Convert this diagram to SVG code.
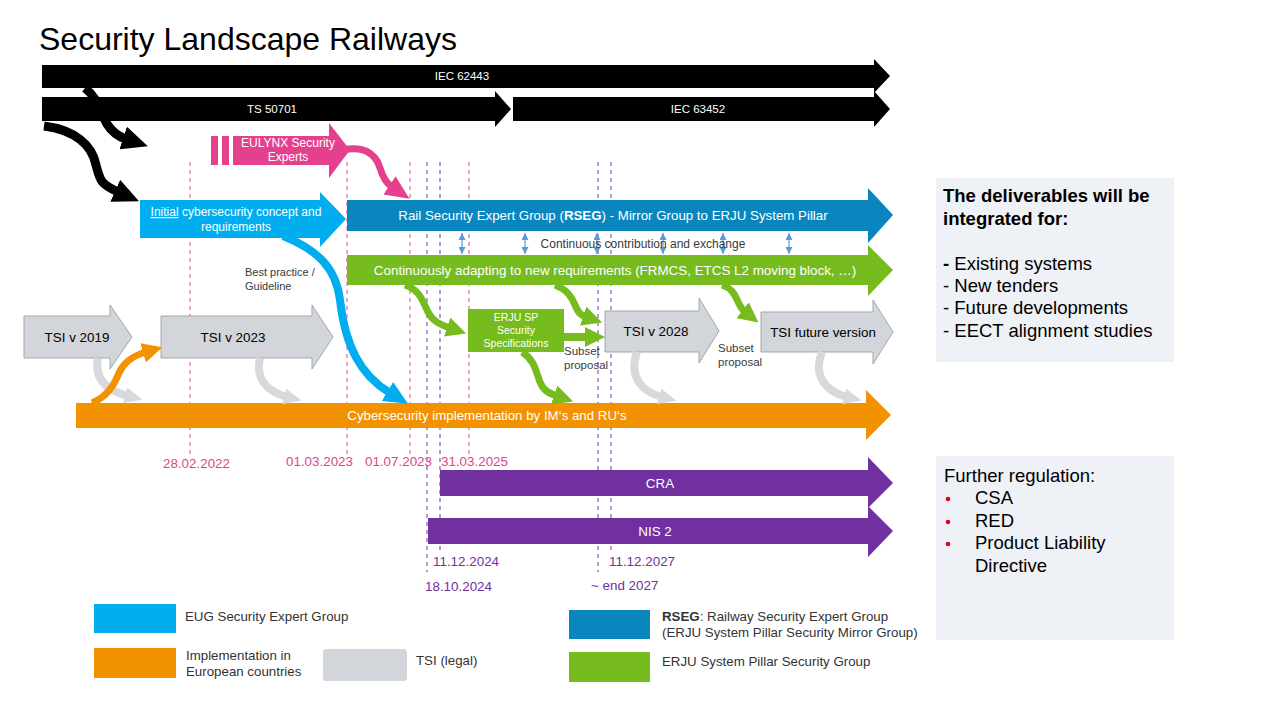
<svg xmlns="http://www.w3.org/2000/svg" width="1280" height="720" viewBox="0 0 1280 720">
<style>
text { font-family: "Liberation Sans", Arial, Helvetica, sans-serif; }
.w { fill: #ffffff; }
.dk { fill: #3a3a3a; }
.blk { fill: #000000; }
.pinkt { fill: #E0448C; font-size: 13.4px; }
.purt { fill: #7030A0; font-size: 13.4px; }
.tsi { fill: #D2D5D9; stroke: #A3A7AB; stroke-width: 1; }
.dpink { stroke: #E0448C; stroke-width: 1; stroke-dasharray: 4 4; fill: none; }
.dpur { stroke: #7030A0; stroke-width: 1; stroke-dasharray: 4 4; fill: none; }
.cv { fill: none; stroke-linecap: butt; }
.sa { stroke: #5B9BD5; stroke-width: 1.2; marker-start: url(#mS); marker-end: url(#mS); }
.leg { fill: #333333; font-size: 13.3px; }
.panel { fill: #EEF1F5; }
.pt { fill: #000000; font-size: 18.5px; }
</style>
<defs>
<marker id="mBlack" markerUnits="userSpaceOnUse" viewBox="0 0 26 24" markerWidth="26" markerHeight="24" refX="3" refY="12" orient="auto"><path d="M0,0 L26,12 L0,24 Z" fill="#000"/></marker>
<marker id="mPink" markerUnits="userSpaceOnUse" viewBox="0 0 24 22" markerWidth="24" markerHeight="22" refX="3" refY="11" orient="auto"><path d="M0,0 L24,11 L0,22 Z" fill="#E5408E"/></marker>
<marker id="mBlue" markerUnits="userSpaceOnUse" viewBox="0 0 24 22" markerWidth="24" markerHeight="22" refX="3" refY="11" orient="auto"><path d="M0,0 L24,11 L0,22 Z" fill="#00AEEF"/></marker>
<marker id="mGreen" markerUnits="userSpaceOnUse" viewBox="0 0 20 20" markerWidth="20" markerHeight="20" refX="3" refY="10" orient="auto"><path d="M0,0 L20,10 L0,20 Z" fill="#77BC1F"/></marker>
<marker id="mGray" markerUnits="userSpaceOnUse" viewBox="0 0 18 16" markerWidth="18" markerHeight="16" refX="3" refY="8" orient="auto"><path d="M0,0 L18,8 L0,16 Z" fill="#D7D9DC"/></marker>
<marker id="mOrange" markerUnits="userSpaceOnUse" viewBox="0 0 20 20" markerWidth="20" markerHeight="20" refX="3" refY="10" orient="auto"><path d="M0,0 L20,10 L0,20 Z" fill="#F39200"/></marker>
<marker id="mS" markerUnits="userSpaceOnUse" viewBox="0 0 7 7" markerWidth="7" markerHeight="7" refX="7" refY="3.5" orient="auto-start-reverse"><path d="M0,0 L7,3.5 L0,7 Z" fill="#5B9BD5"/></marker>
</defs>

<rect x="0" y="0" width="1280" height="720" fill="#ffffff"/>

<text id="title" x="39" y="50" font-size="32" fill="#000">Security Landscape Railways</text>

<!-- dashed date lines -->
<g id="datelines">
<line class="dpink" x1="190" y1="162" x2="190" y2="456"/>
<line class="dpink" x1="347" y1="162" x2="347" y2="456"/>
<line class="dpink" x1="410" y1="162" x2="410" y2="456"/>
<line class="dpink" x1="469" y1="162" x2="469" y2="456"/>
<line class="dpur" x1="427" y1="162" x2="427" y2="572"/>
<line class="dpur" x1="440" y1="162" x2="440" y2="552"/>
<line class="dpur" x1="598" y1="162" x2="598" y2="572"/>
<line class="dpur" x1="611" y1="162" x2="611" y2="552"/>
</g>

<g id="n-iec62443">
<path d="M42,65 H874 V59 L890,76 L874,93 V88 H42 Z" fill="#000"/>
<text class="w" x="462" y="80" font-size="11.5" text-anchor="middle">IEC 62443</text>
</g>
<g id="n-ts50701">
<path d="M42,97 H495 V91 L511,109 L495,127 V121 H42 Z" fill="#000"/>
<text class="w" x="272" y="113" font-size="11.5" text-anchor="middle">TS 50701</text>
</g>
<g id="n-iec63452">
<path d="M513,97 H874 V91 L890,109 L874,127 V121 H513 Z" fill="#000"/>
<text class="w" x="698" y="113" font-size="11.5" text-anchor="middle">IEC 63452</text>
</g>

<g id="n-eulynx">
<rect x="211" y="136" width="7" height="29" fill="#E5408E"/>
<rect x="222" y="136" width="7" height="29" fill="#E5408E"/>
<path d="M233,136 H329 V123 L350,150 L329,178 V165 H233 Z" fill="#E5408E"/>
<text class="w" x="288" y="147" font-size="12" text-anchor="middle">EULYNX Security</text>
<text class="w" x="288" y="161" font-size="12" text-anchor="middle">Experts</text>
</g>

<g id="n-initial">
<path d="M140,200 H320 V192 L346,219 L320,247 V238 H140 Z" fill="#00AEEF"/>
<text class="w" x="236" y="216" font-size="12" text-anchor="middle"><tspan text-decoration="underline">Initial</tspan> cybersecurity concept and</text>
<text class="w" x="236" y="231" font-size="12" text-anchor="middle">requirements</text>
</g>

<g id="n-rseg">
<path d="M347,200 H868 V188 L893,215 L868,243 V231 H347 Z" fill="#0A86BF"/>
<text class="w" x="613" y="220" font-size="13.3" text-anchor="middle">Rail Security Expert Group (<tspan font-weight="bold">RSEG</tspan>) - Mirror Group to ERJU System Pillar</text>
</g>

<g id="n-continuous">
<path d="M347,255 H868 V245 L893,270 L868,296 V285 H347 Z" fill="#77BC1F"/>
<text class="w" x="615" y="275" font-size="13.4" text-anchor="middle">Continuously adapting to new requirements (FRMCS, ETCS L2 moving block, …)</text>
</g>

<g id="n-erju-sp">
<rect x="468" y="309" width="96" height="43" fill="#77BC1F"/>
<text class="w" x="516" y="321" font-size="10.5" text-anchor="middle">ERJU SP</text>
<text class="w" x="516" y="334" font-size="10.5" text-anchor="middle">Security</text>
<text class="w" x="516" y="347" font-size="10.5" text-anchor="middle">Specifications</text>
</g>

<g id="n-tsi2019">
<path class="tsi" d="M24,316 H110 V305 L132,337 L110,369 V358 H24 Z"/>
<text class="blk" x="77" y="342" font-size="13.4" text-anchor="middle">TSI v 2019</text>
</g>
<g id="n-tsi2023">
<path class="tsi" d="M161,316 H312 V305 L333,337 L312,369 V358 H161 Z"/>
<text class="blk" x="233" y="342" font-size="13.4" text-anchor="middle">TSI v 2023</text>
</g>
<g id="n-tsi2028">
<path class="tsi" d="M605,311 H699 V298 L719,331 L699,363 V352 H605 Z"/>
<text class="blk" x="656" y="336" font-size="13.4" text-anchor="middle">TSI v 2028</text>
</g>
<g id="n-tsifuture">
<path class="tsi" d="M761,312 H873 V300 L893,332 L873,364 V352 H761 Z"/>
<text class="blk" x="823" y="337" font-size="13.4" text-anchor="middle">TSI future version</text>
</g>

<g id="n-implementation">
<path d="M76,403 H866 V390 L891,415 L866,440 V428 H76 Z" fill="#F39200"/>
<text class="w" x="487" y="420" font-size="13.3" text-anchor="middle">Cybersecurity implementation by IM‘s and RU‘s</text>
</g>

<g id="n-cra">
<path d="M440,470 H868 V457 L893,483 L868,508 V496 H440 Z" fill="#7030A0"/>
<text class="w" x="660" y="488" font-size="13.4" text-anchor="middle">CRA</text>
</g>
<g id="n-nis2">
<path d="M428,518 H868 V506 L893,531 L868,557 V544 H428 Z" fill="#7030A0"/>
<text class="w" x="655" y="536" font-size="13.4" text-anchor="middle">NIS 2</text>
</g>

<!-- connectors -->
<g id="connectors">
<path class="cv" d="M85,88 C98,98 100,112 107,124 C112,132 117,136 126,139" stroke="#000" stroke-width="9" marker-end="url(#mBlack)"/>
<path class="cv" d="M44,126 C75,130 92,145 96,165 C100,180 100,184 118,192" stroke="#000" stroke-width="9" marker-end="url(#mBlack)"/>
<path class="cv" d="M343,150 C362,146 375,152 380,168 C383,178 386,183 392,187" stroke="#E5408E" stroke-width="7" marker-end="url(#mPink)"/>
<path class="cv" d="M283,236 C318,250 336,268 340,300 C345,345 360,375 390,393" stroke="#00AEEF" stroke-width="8" marker-end="url(#mBlue)"/>
<path class="cv" d="M405,285 C420,290 422,300 428,312 C432,320 438,324 450,328" stroke="#77BC1F" stroke-width="7" marker-end="url(#mGreen)"/>
<path class="cv" d="M555,285 C568,290 572,298 575,305 C578,312 580,315 586,317" stroke="#77BC1F" stroke-width="7" marker-end="url(#mGreen)"/>
<path class="cv" d="M722,285 C738,290 736,305 745,312" stroke="#77BC1F" stroke-width="7" marker-end="url(#mGreen)"/>
<path class="cv" d="M564,337 L588,337" stroke="#77BC1F" stroke-width="8" marker-end="url(#mGreen)"/>
<path class="cv" d="M522,352 C535,360 536,372 540,382 C543,390 548,393 557,396" stroke="#77BC1F" stroke-width="7" marker-end="url(#mGreen)"/>
<path class="cv" d="M98,358 C94,378 105,390 128,396" stroke="#D7D9DC" stroke-width="8" marker-end="url(#mGray)"/>
<path class="cv" d="M260,358 C255,380 268,392 287,397" stroke="#D7D9DC" stroke-width="8" marker-end="url(#mGray)"/>
<path class="cv" d="M637,352 C628,378 643,392 662,397" stroke="#D7D9DC" stroke-width="8" marker-end="url(#mGray)"/>
<path class="cv" d="M822,352 C812,378 828,392 847,397" stroke="#D7D9DC" stroke-width="8" marker-end="url(#mGray)"/>
<path class="cv" d="M92,403 C108,396 114,385 119,373 C124,362 132,356 146,352" stroke="#F39200" stroke-width="7" marker-end="url(#mOrange)"/>
<line class="sa" x1="462" y1="233" x2="462" y2="254"/>
<line class="sa" x1="525" y1="233" x2="525" y2="254"/>
<line class="sa" x1="597" y1="233" x2="597" y2="254"/>
<line class="sa" x1="663" y1="233" x2="663" y2="254"/>
<line class="sa" x1="723" y1="233" x2="723" y2="254"/>
<line class="sa" x1="789" y1="233" x2="789" y2="254"/>
</g>

<g id="labels">
<text class="dk" x="643" y="248" font-size="12" text-anchor="middle">Continuous contribution and exchange</text>
<text class="dk" x="245" y="276" font-size="11" fill="#222">Best practice /</text>
<text class="dk" x="245" y="290" font-size="11" fill="#222">Guideline</text>
<text class="dk" x="564" y="355" font-size="11.5">Subset</text>
<text class="dk" x="564" y="369" font-size="11.5">proposal</text>
<text class="dk" x="718" y="352" font-size="11.5">Subset</text>
<text class="dk" x="718" y="366" font-size="11.5">proposal</text>
<text class="pinkt" x="163" y="468">28.02.2022</text>
<text class="pinkt" x="286" y="466">01.03.2023</text>
<text class="pinkt" x="365" y="466">01.07.2023</text>
<text class="pinkt" x="441" y="466">31.03.2025</text>
<text class="purt" x="433" y="566">11.12.2024</text>
<text class="purt" x="425" y="591">18.10.2024</text>
<text class="purt" x="609" y="566">11.12.2027</text>
<text class="purt" x="591" y="590">~ end 2027</text>
</g>

<g id="panel-deliverables">
<rect class="panel" x="936" y="178" width="238" height="184"/>
<text class="pt" x="943" y="202" font-weight="bold">The deliverables will be</text>
<text class="pt" x="943" y="225" font-weight="bold">integrated for:</text>
<text class="pt" x="943" y="270"><tspan font-weight="bold">-</tspan> Existing systems</text>
<text class="pt" x="943" y="292">- New tenders</text>
<text class="pt" x="943" y="314">- Future developments</text>
<text class="pt" x="943" y="337">- EECT alignment studies</text>
</g>

<g id="panel-regulation">
<rect class="panel" x="936" y="456" width="238" height="184"/>
<text class="pt" x="944" y="482">Further regulation:</text>
<circle cx="948" cy="499" r="2.3" fill="#E2001A"/>
<circle cx="948" cy="522" r="2.3" fill="#E2001A"/>
<circle cx="948" cy="544" r="2.3" fill="#E2001A"/>
<text class="pt" x="975" y="504">CSA</text>
<text class="pt" x="975" y="527">RED</text>
<text class="pt" x="975" y="549">Product Liability</text>
<text class="pt" x="975" y="572">Directive</text>
</g>

<g id="legend">
<rect x="94" y="604" width="82" height="29" fill="#00AEEF"/>
<text class="leg" x="185" y="621">EUG Security Expert Group</text>
<rect x="94" y="648" width="82" height="30" fill="#F39200"/>
<text class="leg" x="186" y="660">Implementation in</text>
<text class="leg" x="186" y="676">European countries</text>
<rect x="323" y="649" width="84" height="32" rx="3" fill="#D2D5D9"/>
<text class="leg" x="416" y="665">TSI (legal)</text>
<rect x="569" y="610" width="81" height="29" fill="#0A86BF"/>
<text class="leg" x="662" y="621"><tspan font-weight="bold">RSEG</tspan>: Railway Security Expert Group</text>
<text class="leg" x="662" y="637">(ERJU System Pillar Security Mirror Group)</text>
<rect x="569" y="652" width="81" height="30" fill="#77BC1F"/>
<text class="leg" x="662" y="666">ERJU System Pillar Security Group</text>
</g>
</svg>
